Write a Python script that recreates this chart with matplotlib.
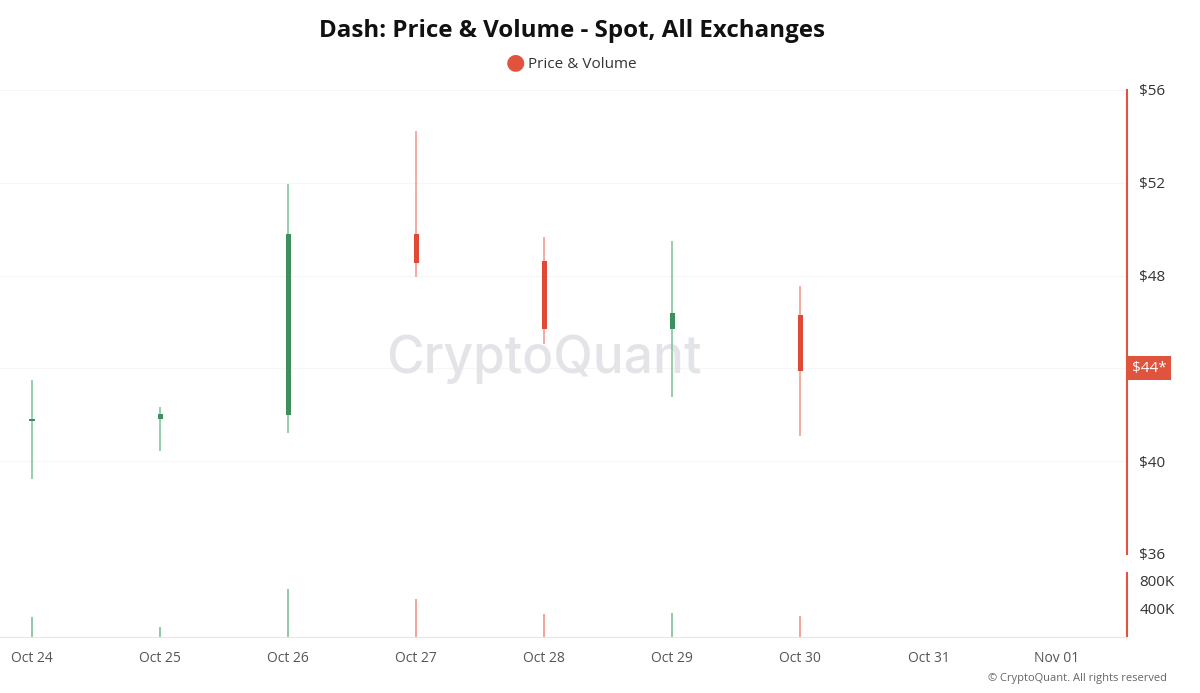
import numpy as np
import matplotlib
matplotlib.use("Agg")
import matplotlib.pyplot as plt

plt.rcParams['font.family'] = ['Open Sans', 'DejaVu Sans']

# daily OHLC for Dash
dates = ['Oct 24', 'Oct 25', 'Oct 26', 'Oct 27', 'Oct 28', 'Oct 29', 'Oct 30']
opens = [41.75, 41.82, 42.00, 49.80, 48.63, 45.70, 46.30]
highs = [43.50, 42.34, 51.95, 54.23, 49.66, 49.50, 47.55]
lows = [39.23, 40.44, 41.22, 47.94, 45.05, 42.77, 41.09]
closes = [41.82, 42.03, 49.80, 48.55, 45.70, 46.40, 43.90]
volumes = [290e3, 147e3, 686e3, 538e3, 330e3, 340e3, 300e3]

tick_labels = ['Oct 24', 'Oct 25', 'Oct 26', 'Oct 27', 'Oct 28', 'Oct 29', 'Oct 30', 'Oct 31', 'Nov 01']
price_ticks = [36, 40, 48, 52, 56]
vol_ticks = [400e3, 800e3]
last_price = 44

GREEN = '#3f8f5e'
GREEN_WICK = '#7fbf9a'
RED = '#e04a35'
RED_WICK = '#f0968a'
AXIS_RED = '#e0533d'
TXT = '#555555'

W, H = 1200, 693
fig = plt.figure(figsize=(W / 100, H / 100), dpi=100)

x0, x1 = 0, 1127
ax = fig.add_axes([x0 / W, 1 - 554 / H, (x1 - x0) / W, (554 - 90) / H])
axv = fig.add_axes([x0 / W, 1 - 637 / H, (x1 - x0) / W, (637 - 573) / H], sharex=ax)

xs = np.arange(len(dates))
up = [c >= o for o, c in zip(opens, closes)]
body_col = [GREEN if u else RED for u in up]
wick_col = [GREEN_WICK if u else RED_WICK for u in up]

ax.vlines(xs, lows, highs, colors=wick_col, linewidth=1.1, zorder=3)
bottoms = [min(o, c) for o, c in zip(opens, closes)]
heights = [max(abs(c - o), 0.08) for o, c in zip(opens, closes)]
ax.bar(xs, heights, bottom=bottoms, width=0.04, color=body_col, zorder=4)

ax.set_xlim(-0.25, 8.55)
ax.set_ylim(36, 56)
ax.yaxis.tick_right()
ax.set_yticks(price_ticks)
ax.set_yticklabels(['$%d' % t for t in price_ticks])
for g in range(36, 57, 4):
    ax.axhline(g, color='#f6f6f6', linewidth=0.8, zorder=0)
for s in ['top', 'left', 'bottom']:
    ax.spines[s].set_visible(False)
ax.spines['right'].set_color(AXIS_RED)
ax.spines['right'].set_linewidth(1.5)
ax.tick_params(axis='y', length=0, pad=9, labelsize=11, labelcolor='#333333')
ax.tick_params(axis='x', bottom=False, labelbottom=False)

# last price label
ax.text(1.004, (last_price - 36) / 20, '$%d*' % last_price, transform=ax.transAxes,
        ha='left', va='center', color='white', fontsize=11,
        bbox=dict(boxstyle='square,pad=0.3', fc=AXIS_RED, ec='none'), zorder=10)

# watermark
ax.text(0.483, 0.42, 'CryptoQuant', transform=ax.transAxes, ha='center', va='center',
        fontsize=37, color='#e4e4e8', fontweight='medium', family='Inter', zorder=1)

# volume pane
axv.vlines(xs, 0, volumes, colors=wick_col, linewidth=1.2)
axv.set_ylim(0, 914e3)
axv.yaxis.tick_right()
axv.set_yticks(vol_ticks)
axv.set_yticklabels(['400K', '800K'])
for s in ['top', 'left']:
    axv.spines[s].set_visible(False)
axv.spines['bottom'].set_color('#e6e6e6')
axv.spines['right'].set_color(AXIS_RED)
axv.spines['right'].set_linewidth(1.5)
axv.tick_params(axis='y', length=0, pad=9, labelsize=11, labelcolor='#333333')
axv.set_xticks(np.arange(len(tick_labels)))
axv.set_xticklabels(tick_labels)
axv.tick_params(axis='x', length=0, pad=10, labelsize=10, labelcolor=TXT)

fig.text(572 / W, 1 - 31 / H, 'Dash: Price & Volume - Spot, All Exchanges',
         ha='center', va='center', fontsize=17.4, fontweight='bold', color='#111111')
fig.text(515 / W, 1 - 63 / H, '\u25cf', ha='center', va='center', fontsize=16, color=AXIS_RED)
fig.text(528 / W, 1 - 64 / H, 'Price & Volume', ha='left', va='center', fontsize=11, color='#333333')
fig.text(1167 / W, 1 - 678 / H, '\u00a9 CryptoQuant. All rights reserved',
         ha='right', va='center', fontsize=8, color='#666666')

fig.savefig('out.png', dpi=100)
